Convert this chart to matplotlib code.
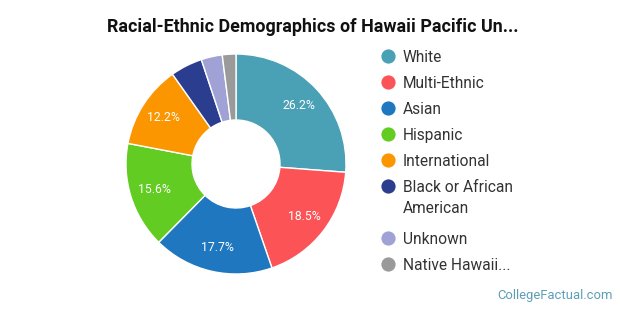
import matplotlib.pyplot as plt
import numpy as np

plt.rcParams['font.family'] = ['Roboto', 'DejaVu Sans']

# Chart data
labels = ['White', 'Multi-Ethnic', 'Asian', 'Hispanic', 'International',
          'Black or African American', 'Unknown', 'Native Hawaii...']
legend_text = ['White', 'Multi-Ethnic', 'Asian', 'Hispanic', 'International',
               'Black or African\nAmerican', 'Unknown', 'Native Hawaii...']
shares = [26.2, 18.5, 17.7, 15.6, 12.2, 4.7, 3.1, 2.0]
colors = ['#4aa0b5', '#fc5356', '#1f77c0', '#62cc22', '#fb9500',
          '#2b3d8e', '#a0a1d4', '#9a9a9a']
legend_rows = [56, 82, 108, 134, 160, 186, 238, 264]  # pixel y of each legend row

W, H = 620, 310
fig = plt.figure(figsize=(W / 100, H / 100), dpi=100)

# Donut
ax = fig.add_axes([126 / W, (H - 274) / H, 220 / W, 220 / H])
wedges, _ = ax.pie(shares, colors=colors, startangle=90, counterclock=False,
                   radius=1.0, wedgeprops=dict(width=0.6, edgecolor='white', linewidth=1))
ax.set_xlim(-1, 1)
ax.set_ylim(-1, 1)
ax.set_aspect('equal')
ax.axis('off')

start = 90.0
for val in shares:
    mid = start - val * 3.6 / 2
    start -= val * 3.6
    if val < 10:
        continue
    r = 0.78
    ax.text(r * np.cos(np.radians(mid)), r * np.sin(np.radians(mid)), f'{val:.1f}%',
            ha='center', va='center', color='white', fontsize=8.8)

# Overlay axes in pixel coordinates for legend / title
ov = fig.add_axes([0, 0, 1, 1])
ov.set_xlim(0, W)
ov.set_ylim(H, 0)
ov.axis('off')

ov.text(313, 27, 'Racial-Ethnic Demographics of Hawaii Pacific Un...', ha='center',
        va='center', fontsize=12.9, fontweight='bold', color='#111111')

for txt, c, y in zip(legend_text, colors, legend_rows):
    ov.scatter([388], [y], s=105, color=c, linewidths=0)
    ov.text(403, y - 6, txt, ha='left', va='top', fontsize=11.2, color='#333333',
            linespacing=1.5)

ov.text(613, 296, 'CollegeFactual.com', ha='right', va='center', fontsize=9.4,
        color='#5b9fb5')

fig.savefig('out.png', dpi=100)
